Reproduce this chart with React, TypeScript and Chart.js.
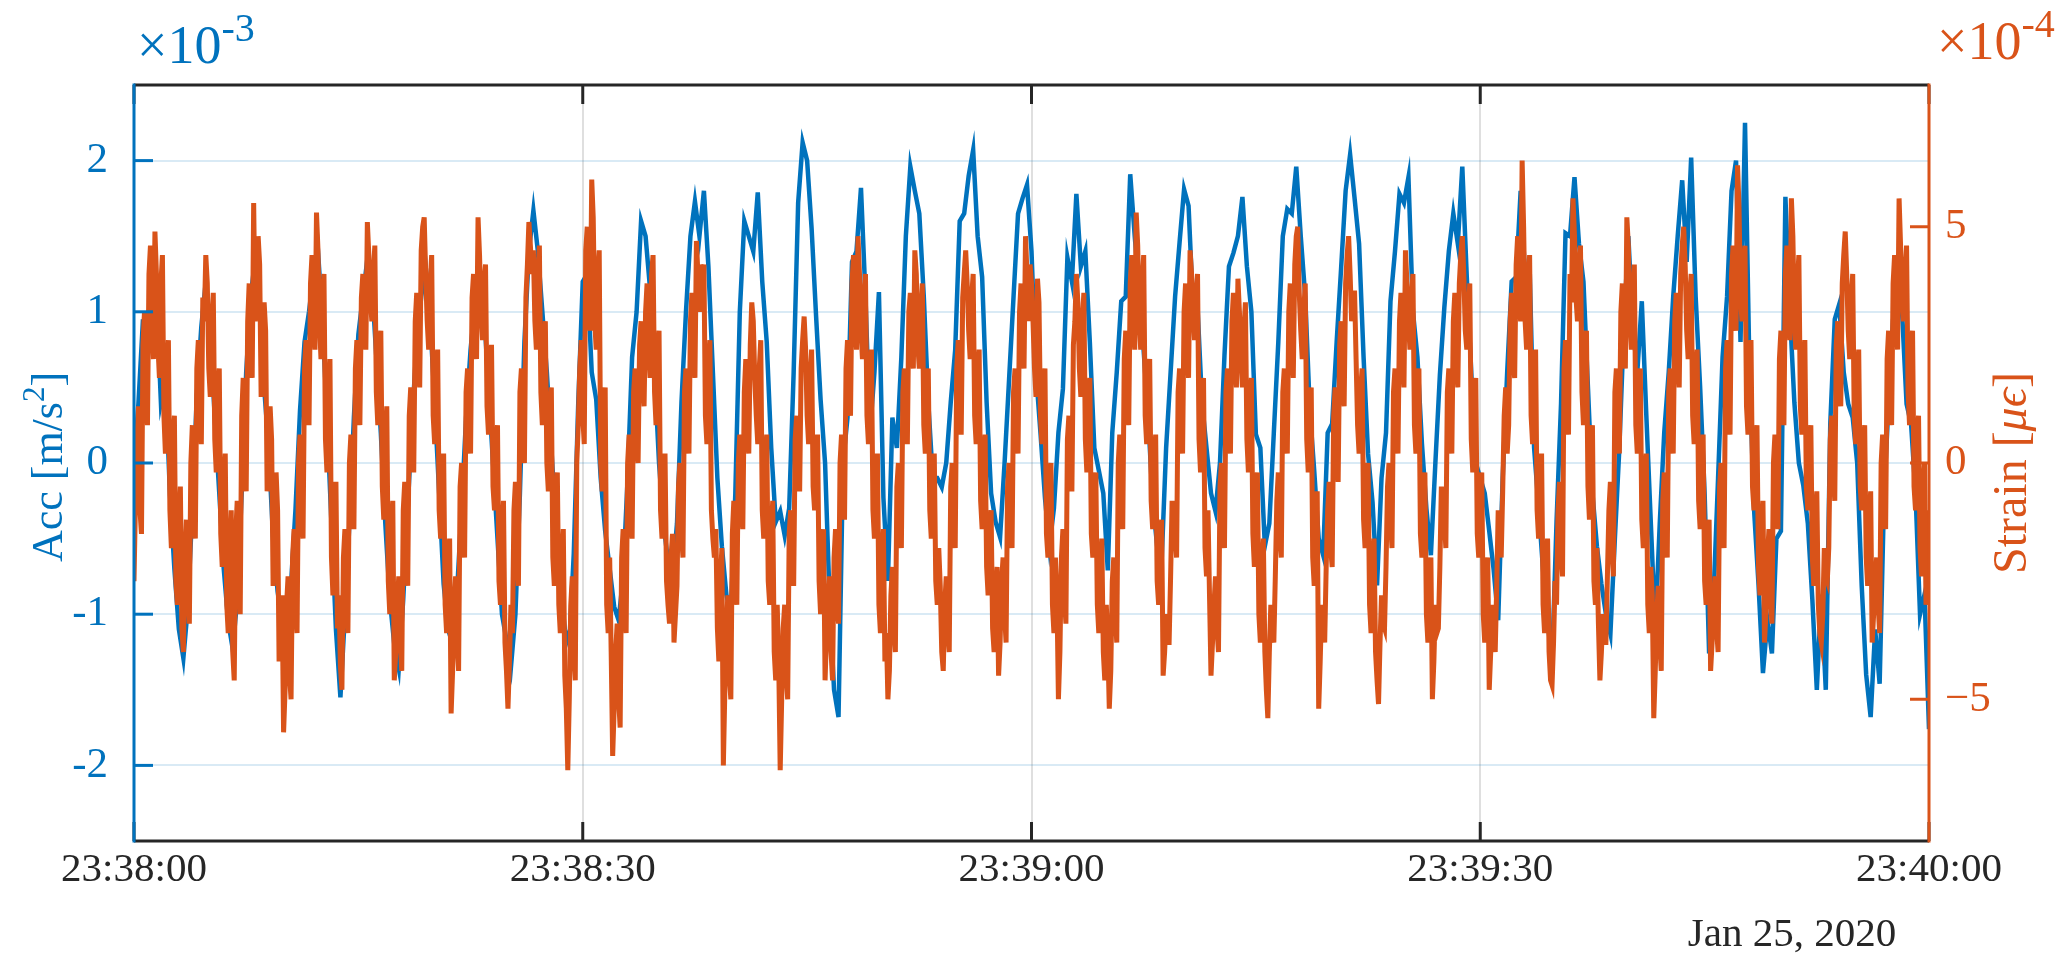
import { useEffect, useRef } from 'react';
import { Chart, registerables } from 'chart.js';

Chart.register(...registerables);

// ---- axes / labels ----
const X_TICKS = [0, 30, 60, 90, 120]; // seconds after 23:38:00
const X_TICK_LABELS = ['23:38:00', '23:38:30', '23:39:00', '23:39:30', '23:40:00'];
const LEFT_TICKS = [-2, -1, 0, 1, 2];
const RIGHT_TICKS = [-5, 0, 5];
const DATE_LABEL = 'Jan 25, 2020';

// ---- series ----
// Acceleration, sampled every 0.3 s, in units of 1e-5 m/s^2 (value/100 -> axis units of 1e-3)
const ACC_STEP = 0.3;
const ACC = [
  -5, 40, 95, 70, 128, 110, 40, 55, -20, -70,
  -110, -129, -95, -30, 45, 90, 120, 85, 30, -20,
  -70, -105, -123, -90, -20, 60, 110, 135, 100, 50,
  10, -50, -85, -105, -110, -80, -30, 35, 80, 100,
  125, 140, 95, 30, -40, -110, -155, -100, -40, 30,
  85, 110, 135, 120, 70, 20, -40, -90, -120, -136,
  -90, -30, 30, 80, 110, 130, 95, 40, -20, -80,
  -110, -120, -85, -30, 30, 75, 105, 125, 100, 50,
  0, -50, -100, -117, -135, -100, -20, 80, 140, 167,
  140, 100, 60, 10, -40, -80, -110, -120, -60, 40,
  120, 125, 60, 42, -10, -45, -70, -95, -104, -75,
  -10, 70, 100, 160, 150, 115, 60, 0, -40, -65,
  -75, -40, 40, 100, 150, 173, 150, 180, 130, 60,
  -10, -55, -87, -100, -20, 100, 160, 150, 140, 179,
  120, 80, 10, -39, -32, -48, -30, 60, 172, 212,
  200, 155, 97, 42, 0, -90, -150, -168, 0, 30,
  133, 140, 182, 110, 20, 60, 113, -23, -78, 30,
  10, 70, 150, 196, 180, 165, 110, 40, -10, -10,
  -16, 0, 40, 75, 160, 165, 190, 207, 150, 123,
  40, -20, -39, -49, 0, 55, 110, 165, 175, 184,
  140, 60, 20, -23, -55, -30, 20, 49, 136, 120,
  178, 130, 140, 80, 10, -5, -20, -71, 20, 60,
  107, 110, 191, 150, 115, 74, 30, -25, -55, -65,
  10, 60, 110, 146, 181, 170, 103, 103, 40, 10,
  -20, -32, 0, 71, 130, 139, 150, 176, 130, 100,
  19, 10, -55, -40, 20, 80, 150, 168, 165, 196,
  150, 110, 36, -5, -50, -61, 20, 26, 80, 129,
  180, 204, 175, 145, 70, 6, -26, -81, -10, 20,
  107, 140, 178, 172, 189, 100, 70, 13, -30, -61,
  0, 58, 103, 140, 165, 145, 196, 123, 60, 0,
  -10, -20, -45, -71, -104, -10, 60, 120, 123, 180,
  123, 130, 10, -29, -71, -104, -133, -39, 39, 152,
  150, 189, 145, 120, 50, -20, -55, -80, -100, -113,
  -50, 10, 90, 150, 90, 60, 107, 32, -39, -110,
  -40, 20, 60, 110, 150, 187, 133, 202, 110, 50,
  -20, -126, -87, -10, 70, 110, 180, 200, 80, 225,
  60, -30, -80, -139, -104, -126, -50, -45, 176, 100,
  40, 0, -15, -40, -90, -150, -87, -150, 26, 95,
  105, 60, 39, 30, 0, -81, -140, -168, -110, -146,
  -20, 40, 95, 116, 100, 39, 26, -20, -100, -87,
  -176,
];

// Strain, samples at t = 0, 0.2, 0.4 ... s, in units of 1e-5 (value/10 -> axis units of 1e-4)
const STRAIN_STEP = 0.2;
const STRAIN = [
  -25, 5, -10, 25, 15, 40, 30, 49, 25, 38,
  10, 20, -10, 5, -25, -12, -35, -20, -28, 0,
  -10, 20, 10, 35, 44, 20, 30, 5, 15, -15,
  -5, -30, -18, -40, -15, -25, 10, 0, 30, 25,
  55, 35, 42, 20, 28, 0, 5, -20, -10, -35,
  -57, -30, -45, -20, -30, 0, -10, 20, 15, 38,
  30, 53, 30, 35, 5, 15, -20, -10, -35, -43,
  -20, -30, 0, -8, 20, 15, 35, 30, 51, 35,
  40, 15, 22, -5, 5, -25, -15, -46, -30, -38,
  -10, -20, 10, 5, 30, 22, 45, 52, 30, 38,
  10, 18, -10, -5, -30, -22, -53, -30, -38, -5,
  -15, 15, 8, 35, 28, 52, 32, 38, 12, 20,
  -5, 2, -25, -15, -38, -52, -30, -10, -20, 15,
  5, 35, 51, 40, 30, 40, 15, 25, 0, 10,
  -20, -8, -30, -20, -45, -65, -30, -40, 0, 20,
  10, 45, 35, 60, 30, 40, 0, 10, -30, -20,
  -62, -40, -50, -20, -30, 0, -10, 15, 5, 25,
  18, 32, 25, 40, 15, 22, -10, -5, -25, -34,
  -15, -32, -5, -15, 15, 8, 30, 25, 47, 32,
  38, 10, 20, -10, -20, -35, -25, -64, -35, -45,
  -15, -25, 0, -8, 15, 8, 25, 30, 10, 20,
  -10, 0, -25, -15, -40, -30, -65, -35, -45, -15,
  -20, 5, 0, 20, 31, 10, 18, -5, 0, -25,
  -20, -46, -30, -40, -20, -30, 0, -5, 20, 15,
  38, 30, 48, 28, 35, 10, 18, -10, -5, -30,
  -20, -42, -50, -28, -35, -5, -12, 15, 10, 32,
  25, 45, 25, 32, 8, 15, -10, -3, -25, -18,
  -40, -30, -35, -5, -12, 20, 12, 35, 45, 28,
  35, 10, 18, -8, 0, -22, -15, -35, -28, -45,
  -25, -32, -5, -12, 15, 8, 32, 25, 48, 30,
  38, 20, 39, 10, 15, -15, -5, -30, -20, -50,
  -20, -28, 5, 0, 25, 40, 20, 30, 5, 12,
  -15, -8, -30, -22, -40, -30, -52, -25, -32, 0,
  -8, 22, 15, 38, 30, 53, 30, 38, 10, 18,
  -8, 0, -25, -18, -45, -32, -38, -8, -15, 15,
  8, 32, 25, 45, 32, 35, 5, 12, -18, -10,
  -45, -30, -35, -5, -12, 15, 8, 30, 22, 39,
  22, 28, 5, 12, -15, -8, -32, -22, -40, -54,
  -30, -38, -8, -15, 15, 8, 32, 25, 42, 50,
  28, 32, 5, 10, -20, -12, -52, -30, -38, -10,
  -18, 10, 2, 25, 18, 38, 48, 30, 36, 8,
  15, -12, -5, -30, -22, -40, -51, -28, -35, -5,
  -12, 15, 8, 30, 22, 45, 30, 35, 8, 15,
  -15, -8, -32, -25, -50, -30, -35, -5, -12, 15,
  8, 30, 22, 38, 48, 28, 32, 5, 12, -15,
  -8, -32, -25, -48, -30, -40, -10, -20, 10, 2,
  30, 22, 42, 35, 64, 30, 38, 10, 18, -10,
  -5, -30, -22, -40, -47, -25, -10, -18, 20, 12,
  40, 56, 35, 42, 15, 22, -5, 2, -25, -18,
  -46, -32, -38, -10, -18, 15, 8, 32, 25, 52,
  30, 36, 8, 15, -12, -5, -30, -22, -54, -32,
  -38, -8, -15, 15, 8, 30, 22, 40, 50, 28,
  35, 10, 18, -8, 0, -25, -18, -44, -30, -35,
  -5, -12, 20, 12, 40, 32, 63, 35, 42, 12,
  20, -5, 2, -22, -15, -38, -20, -28, 0, -8,
  22, 15, 40, 32, 56, 30, 38, 12, 20, -5,
  2, -20, -12, -30, -38, -18, -25, 5, -2, 25,
  18, 38, 49, 28, 35, 10, 18, -5, 2, -20,
  -12, -38, -25, -30, 0, -8, 22, 15, 38, 30,
  56, 35, 40, 15, 22, -5, 5, -18, -5, -30,
  -10,
];

// Strain, the in-between samples at t = 0.1, 0.3, 0.5 ... s (same units)
const STRAIN_MID = [
  -8, 12, -15, 32, 8, 46, 22, 40, 18, 44,
  2, 26, -18, 10, -30, -5, -40, -12, -34, 8,
  -16, 26, 4, 30, 38, 14, 36, -2, 20, -22,
  2, -36, -10, -46, -8, -32, 18, -6, 38, 18,
  30, 48, 14, 34, -6, 12, -26, -2, -42, -28,
  -48, -24, -50, -14, -36, 6, -16, 26, 8, 44,
  24, 45, 22, 40, -2, 22, -28, -4, -28, -48,
  -14, -36, 6, -14, 26, 8, 40, 24, 44, 30,
  46, 8, 28, -12, 12, -32, -8, -40, -24, -44,
  -4, -26, 16, -2, 36, 16, 50, 40, 24, 44,
  4, 24, -16, 2, -36, -16, -44, -24, -44, 0,
  -20, 20, 2, 40, 22, 44, 26, 42, 6, 25,
  -10, 8, -30, -8, -44, -42, -36, -4, -26, 20,
  0, 42, 46, 45, 24, 46, 8, 30, -6, 16,
  -26, -2, -36, -14, -52, -50, -24, -46, 8, 26,
  4, 50, 28, 52, 24, 45, -6, 16, -36, -40,
  -52, -34, -56, -14, -36, 6, -16, 20, 0, 30,
  12, 38, 18, 44, 8, 28, -16, 2, -30, -20,
  -38, -26, 0, -20, 20, 2, 36, 18, 40, 42,
  42, 4, 26, -16, -14, -42, -18, -48, -28, -50,
  -8, -30, 6, -14, 22, 2, 34, 18, 4, 26,
  -16, 6, -30, -8, -46, -42, -50, -30, -50, -10,
  -26, 10, -6, 26, 24, 4, 24, -10, 6, -32,
  -14, -36, -24, -46, -14, -34, 6, -12, 26, 10,
  44, 24, 40, 22, 40, 4, 24, -16, 2, -36,
  -14, -36, -44, -22, -40, 0, -18, 20, 4, 36,
  20, 40, 20, 38, 2, 20, -16, 2, -30, -26,
  -44, -24, -40, 0, -18, 26, 6, 40, 38, 22,
  40, 4, 24, -14, 6, -28, -10, -40, -22, -38,
  -20, -38, 0, -18, 20, 2, 38, 20, 40, 42,
  30, 14, 34, 4, 20, -20, 0, -36, -28, -40,
  -14, -34, 10, -6, 30, 34, 14, 36, -2, 18,
  -20, -2, -36, -16, -46, -38, -44, -20, -38, 6,
  -14, 28, 8, 44, 24, 46, 24, 44, 4, 22,
  -14, 6, -30, -12, -40, -38, -24, -14, -20, 20,
  2, 38, 18, 40, 26, 40, -2, 18, -24, -28,
  -38, -24, -40, 0, -18, 20, 2, 36, 16, 32,
  16, 34, -2, 18, -22, -2, -38, -16, -48, -40,
  -36, -24, -2, -20, 20, 2, 38, 18, 48, 36,
  22, 38, -2, 16, -26, -6, -42, -34, -22, -4,
  -22, 16, -4, 30, 12, 44, 40, 36, 22, 2,
  20, -18, 0, -36, -16, -46, -38, -34, -22, 0,
  -18, 20, 2, 36, 16, 38, 24, 40, 2, 20,
  -20, -2, -38, -20, -42, -36, -22, -10, -18, 20,
  2, 36, 16, 44, 40, 24, 38, -2, 18, -20,
  -2, -38, -20, -40, -36, -26, -16, -6, 16, 8,
  36, 18, 48, 30, 50, 24, 44, 4, 24, -16,
  2, -36, -16, -46, -38, -30, -4, -24, 26, 6,
  34, 48, 30, 46, 8, 28, -12, 8, -30, -34,
  -40, -38, -24, -4, -24, 20, 2, 38, 20, 46,
  24, 42, 2, 20, -18, 2, -36, -28, -44, -26,
  -44, -2, -20, 20, 2, 36, 16, 46, 42, 22,
  40, 4, 24, -14, 6, -30, -12, -38, -24, -40,
  0, -18, 26, 6, 46, 28, 54, 30, 46, 6,
  26, -10, 8, -28, -8, -32, -14, -34, 6, -14,
  28, 8, 46, 26, 48, 24, 44, 6, 26, -10,
  8, -26, -6, -36, -32, -24, -18, 10, -8, 30,
  12, 44, 40, 22, 40, 4, 24, -10, 8, -26,
  -6, -32, -20, -36, 6, -14, 28, 8, 44, 24,
  46, 30, 46, 8, 28, -10, 10, -24, 0, -24,
];

const BLUE = '#0072BD';
const ORANGE = '#D95319';
const DARK = '#262626';
const FONT = "'Liberation Serif', 'Times New Roman', serif";

type Part = { t: string; size: number; dy?: number; italic?: boolean };

function drawParts(ctx: CanvasRenderingContext2D, parts: Part[], x: number, y: number, align: 'left' | 'center') {
  const fontOf = (p: Part) => `${p.italic ? 'italic ' : ''}${p.size}px ${FONT}, 'DejaVu Serif'`;
  let total = 0;
  for (const p of parts) {
    ctx.font = fontOf(p);
    total += ctx.measureText(p.t).width;
  }
  let cx = align === 'center' ? x - total / 2 : x;
  ctx.textAlign = 'left';
  ctx.textBaseline = 'alphabetic';
  for (const p of parts) {
    ctx.font = fontOf(p);
    ctx.fillText(p.t, cx, y + (p.dy || 0));
    cx += ctx.measureText(p.t).width;
  }
}

const decorPlugin = {
  id: 'decor',
  afterDatasetsDraw(chart: any) {
    const { ctx, chartArea: a, scales } = chart;
    const xs = scales.x;
    const yl = scales.y;
    const yr = scales.y2;
    const TL = 19;
    ctx.save();
    ctx.lineWidth = 3;
    ctx.lineCap = 'butt';
    const line = (x1: number, y1: number, x2: number, y2: number) => {
      ctx.beginPath();
      ctx.moveTo(x1, y1);
      ctx.lineTo(x2, y2);
      ctx.stroke();
    };
    // tick marks (inward)
    ctx.strokeStyle = DARK;
    for (const t of X_TICKS) {
      const px = xs.getPixelForValue(t);
      line(px, a.bottom, px, a.bottom - TL);
      line(px, a.top, px, a.top + TL);
    }
    ctx.strokeStyle = BLUE;
    for (const t of LEFT_TICKS) {
      const py = yl.getPixelForValue(t);
      line(a.left, py, a.left + TL, py);
    }
    ctx.strokeStyle = ORANGE;
    for (const t of RIGHT_TICKS) {
      const py = yr.getPixelForValue(t);
      line(a.right, py, a.right - TL, py);
    }
    // box
    ctx.strokeStyle = DARK;
    line(a.left, a.top, a.right, a.top);
    line(a.left, a.bottom, a.right, a.bottom);
    ctx.strokeStyle = BLUE;
    line(a.left, a.top - 1.5, a.left, a.bottom + 1.5);
    ctx.strokeStyle = ORANGE;
    line(a.right, a.top - 1.5, a.right, a.bottom + 1.5);

    // exponent labels
    ctx.fillStyle = BLUE;
    drawParts(ctx, [{ t: '×10', size: 54 }, { t: '-3', size: 40, dy: -22 }], a.left + 3, 63, 'left');
    ctx.fillStyle = ORANGE;
    drawParts(ctx, [{ t: '×10', size: 54 }, { t: '-4', size: 40, dy: -22 }], a.right + 8, 59, 'left');

    // axis titles
    ctx.save();
    ctx.translate(62, yl.getPixelForValue(0) + 4);
    ctx.rotate(-Math.PI / 2);
    ctx.fillStyle = BLUE;
    drawParts(ctx, [{ t: 'Acc [m/s', size: 44 }, { t: '2', size: 31, dy: -18 }, { t: ']', size: 44 }], 0, 0, 'center');
    ctx.restore();

    ctx.save();
    ctx.translate(2026, yr.getPixelForValue(0) + 10);
    ctx.rotate(-Math.PI / 2);
    ctx.fillStyle = ORANGE;
    drawParts(ctx, [{ t: 'Strain [', size: 48 }, { t: 'μϵ', size: 48, italic: true }, { t: ']', size: 48 }], 0, 0, 'center');
    ctx.restore();

    // date
    ctx.fillStyle = DARK;
    drawParts(ctx, [{ t: DATE_LABEL, size: 41 }], 1792, 946, 'center');
    ctx.restore();
  },
};

export default function App() {
  const ref = useRef<HTMLCanvasElement>(null);
  useEffect(() => {
    const accPts = ACC.map((v, i) => ({ x: Math.round(i * ACC_STEP * 100) / 100, y: v / 100 }));
    const strainPts: { x: number; y: number }[] = [];
    STRAIN.forEach((v, i) => {
      const t = Math.round(i * STRAIN_STEP * 100) / 100;
      strainPts.push({ x: t, y: v / 10 });
      if (i < STRAIN_MID.length) {
        strainPts.push({ x: Math.round((t + STRAIN_STEP / 2) * 100) / 100, y: STRAIN_MID[i] / 10 });
      }
    });
    const chart = new Chart(ref.current as HTMLCanvasElement, {
      type: 'line',
      data: {
        datasets: [
          {
            label: 'Strain',
            data: strainPts,
            yAxisID: 'y2',
            borderColor: ORANGE,
            backgroundColor: ORANGE,
            borderWidth: 5,
            pointRadius: 0,
            tension: 0,
            order: 0,
          },
          {
            label: 'Acc',
            data: accPts,
            yAxisID: 'y',
            borderColor: BLUE,
            backgroundColor: BLUE,
            borderWidth: 4.5,
            pointRadius: 0,
            tension: 0,
            order: 1,
          },
        ],
      },
      options: {
        animation: false,
        responsive: true,
        maintainAspectRatio: false,
        events: [],
        layout: { padding: { top: 85, left: 0, right: 0, bottom: 0 } },
        plugins: { legend: { display: false }, tooltip: { enabled: false } },
        scales: {
          x: {
            type: 'linear',
            min: 0,
            max: 120,
            afterBuildTicks: (s: any) => {
              s.ticks = X_TICKS.map((v) => ({ value: v }));
            },
            afterFit: (s: any) => {
              s.height = 123;
            },
            ticks: {
              callback: (v: any) => {
                const k = X_TICKS.indexOf(Number(v));
                return k >= 0 ? X_TICK_LABELS[k] : '';
              },
              font: { family: FONT, size: 41 },
              color: DARK,
              padding: 5,
              maxRotation: 0,
              autoSkip: false,
            },
            grid: { color: 'rgba(38,38,38,0.15)', lineWidth: 2, drawTicks: false },
            border: { display: false },
          },
          y: {
            type: 'linear',
            position: 'left',
            min: -2.5,
            max: 2.5,
            afterBuildTicks: (s: any) => {
              s.ticks = LEFT_TICKS.map((v) => ({ value: v }));
            },
            afterFit: (s: any) => {
              s.width = 134;
            },
            ticks: {
              callback: (v: any) => String(v),
              font: { family: FONT, size: 43 },
              color: BLUE,
              padding: 26,
            },
            grid: { color: 'rgba(0,114,189,0.15)', lineWidth: 2, drawTicks: false },
            border: { display: false },
          },
          y2: {
            type: 'linear',
            position: 'right',
            min: -8,
            max: 8,
            afterBuildTicks: (s: any) => {
              s.ticks = RIGHT_TICKS.map((v) => ({ value: v }));
            },
            afterFit: (s: any) => {
              s.width = 129;
            },
            ticks: {
              callback: (v: any) => (Number(v) < 0 ? '−' + Math.abs(Number(v)) : String(v)),
              font: { family: FONT, size: 43 },
              color: ORANGE,
              padding: 16,
            },
            grid: { display: false, drawTicks: false },
            border: { display: false },
          },
        },
      },
      plugins: [decorPlugin],
    } as any);
    return () => chart.destroy();
  }, []);
  return (
    <div style={{ position: 'fixed', left: 0, top: 0, width: 2058, height: 964, background: '#fff' }}>
      <canvas ref={ref} />
    </div>
  );
}
